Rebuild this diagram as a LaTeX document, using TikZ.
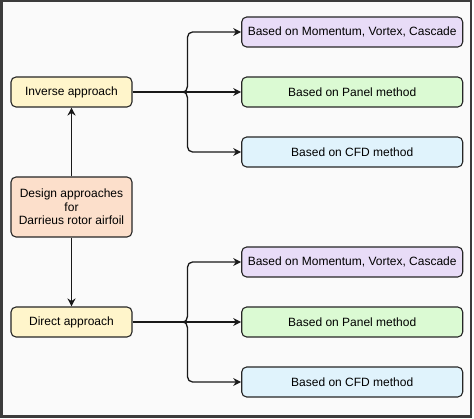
\documentclass[tikz,border=0pt]{standalone}
\usepackage{fontspec}
\setmainfont{Liberation Sans}
\usetikzlibrary{arrows.meta}
\definecolor{approachfill}{HTML}{FFF5CB}
\definecolor{designfill}{HTML}{FCDFCB}
\definecolor{momfill}{HTML}{E8DCF7}
\definecolor{panfill}{HTML}{DBFAD3}
\definecolor{cfdfill}{HTML}{E0F3FC}
\definecolor{framegray}{HTML}{3C3C3C}
\definecolor{bggray}{HTML}{FAFAFA}
\begin{document}
\begin{tikzpicture}[x=1pt, y=1pt]
    \tikzstyle{box_style}=[rectangle, draw=black!85, line width=1.1pt, rounded corners=5pt, align=center, font=\fontsize{12}{13.6}\selectfont, inner sep=2pt]
    \tikzstyle{left_style}=[box_style, minimum width=121pt, minimum height=30pt]
    \tikzstyle{right_style}=[box_style, minimum width=221pt, minimum height=30pt]
    \tikzstyle{line_style}=[line width=1.3pt, black!90]
    \tikzstyle{arrow_style}=[line_style, -{Stealth[length=8pt, width=8pt]}]

    % frame
    \useasboundingbox (0,0) rectangle (474,-419);
    \fill[white] (0,0) rectangle (474,-419);
    \draw[framegray, fill=bggray, line width=2.6pt] (1.5,-1) rectangle (471,-416.5);

    % design, inverse, direct
    \draw node at (71.5, -207) [left_style, minimum height=60pt, fill=designfill] (design) {Design approaches\\for\\Darrieus rotor airfoil};
    \draw node at (71.5, -92) [left_style, fill=approachfill] (inv) {Inverse approach};
    \draw node at (71.5, -322) [left_style, fill=approachfill] (dir) {Direct approach};

    % methods
    \foreach \g/\y in {inv/0, dir/-230} {
      \draw node at (352.2, -32+\y) [right_style, fill=momfill] (\g_mom) {Based on Momentum, Vortex, Cascade};
      \draw node at (352.2, -92+\y) [right_style, fill=panfill] (\g_pan) {Based on Panel method};
      \draw node at (352.2, -152+\y) [right_style, fill=cfdfill] (\g_cfd) {Based on CFD method};
    }

    % connect: design -> approaches
    \path[arrow_style] (design) edge node[] {} (inv);
    \path[arrow_style] (design) edge node[] {} (dir);

    % connect: approach -> methods
    \foreach \g in {inv, dir} {
      \path (\g.east) ++(49.5,0) coordinate (\g_j);
      \draw[line_style] (\g) -- (\g_j);
      \draw[arrow_style] (\g_j) .. controls +(4,0) and +(0,-3) .. ++(5.5,6) [rounded corners=5pt] |- (\g_mom.west);
      \draw[arrow_style] (\g_j) -- (\g_pan.west);
      \draw[arrow_style] (\g_j) .. controls +(4,0) and +(0,3) .. ++(5.5,-6) [rounded corners=5pt] |- (\g_cfd.west);
    }
\end{tikzpicture}
\end{document}
